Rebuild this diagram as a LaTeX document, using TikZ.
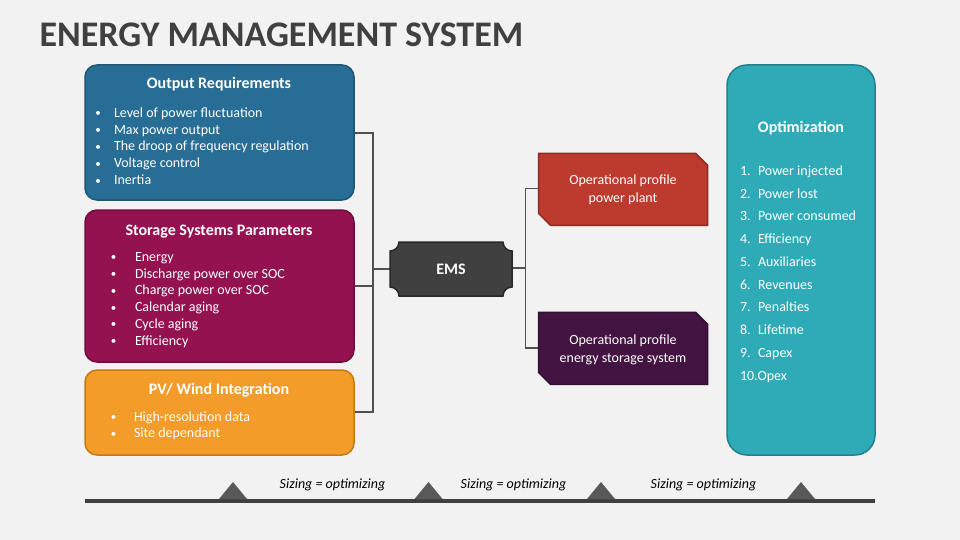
\documentclass[tikz,border=0pt]{standalone}
\usepackage{fontspec}
\setmainfont{Carlito}
\definecolor{bgc}{HTML}{F2F2F2}
\definecolor{titlec}{HTML}{404040}
\definecolor{linec}{HTML}{505050}
\definecolor{bluef}{HTML}{276D95}\definecolor{bluel}{HTML}{1F5672}
\definecolor{crimf}{HTML}{93124F}\definecolor{criml}{HTML}{6F0E3C}
\definecolor{oranf}{HTML}{F39C29}\definecolor{oranl}{HTML}{C67A14}
\definecolor{tealf}{HTML}{2FABB8}\definecolor{teall}{HTML}{22828C}
\definecolor{redf}{HTML}{BC3A2E}\definecolor{redl}{HTML}{8F2C23}
\definecolor{purpf}{HTML}{431441}\definecolor{purpl}{HTML}{330F32}
\definecolor{emsf}{HTML}{404040}\definecolor{emsl}{HTML}{282828}
\definecolor{trif}{HTML}{595959}
\tikzset{
  every node/.style={inner sep=0pt,outer sep=0pt},
  panel/.style={rounded corners=12pt,line width=1.5pt,minimum width=269pt},
  lbl/.style={text=white,font=\fontsize{14}{17}\selectfont,align=left,anchor=base west},
  bul/.style={text=white,font=\fontsize{11}{13}\selectfont,anchor=base},
  head/.style={text=white,font=\fontsize{16}{19}\selectfont\bfseries,anchor=base},
  conn/.style={draw=linec,line width=1.9pt},
  snipbox/.style={minimum width=169pt,minimum height=72pt},
  snipline/.style={line width=1.5pt,line join=miter},
  sniptext/.style={text=white,align=center,font=\fontsize{14}{17.5}\selectfont},
  tri/.style={fill=trif,draw=none},
  sizing/.style={font=\fontsize{14}{17}\selectfont\itshape,text=black,anchor=base}
}
\newcommand{\snipshape}[3]{%
  \draw[snipline,draw=#2,fill=#3]
    (#1.north west) -- ([xshift=-12pt]#1.north east) -- ([yshift=-12pt]#1.north east)
    -- (#1.south east) -- ([xshift=12pt]#1.south west) -- ([yshift=12pt]#1.south west) -- cycle;}
\begin{document}
\begin{tikzpicture}[x=1pt,y=-1pt]
\useasboundingbox (0,0) rectangle (960,540);
\fill[bgc] (0,0) rectangle (960,540);
\node[anchor=base west,text=titlec,font=\fontsize{36}{40}\selectfont\bfseries] (title) at (39.5,46.5) {ENERGY MANAGEMENT SYSTEM};

% centre and right nodes
\coordinate (busL) at (373,269);
\coordinate (busR) at (525.5,268);
\node[panel,minimum height=135pt] (out) at (219.5,132.5) {};
\node[panel,minimum height=152pt] (stor) at (219.5,286) {};
\node[panel,minimum height=85pt] (pv) at (219.5,412.5) {};
\node[minimum width=122pt,minimum height=54pt] (ems) at (451,269) {};
\node[snipbox] (plant) at (623,189.3) {};
\node[snipbox] (ess) at (623,348.3) {};

% connectors
\draw[conn] (out.east |- 0,133) -- (373,133) -- (373,412) -- (pv.east |- 0,412);
\draw[conn] (stor.east) -- (stor.east -| busL);
\draw[conn] (busL) -- (ems.west |- busL);
\draw[conn] (ems.east |- busR) -- (busR);
\draw[conn] (plant.west |- 0,188.5) -- (525.5,188.5) -- (525.5,348.3) -- (ess.west |- 0,348.3);

% panels
\node[panel,draw=bluel,fill=bluef,minimum height=135pt] at (out) {};
\node[panel,draw=criml,fill=crimf,minimum height=152pt] at (stor) {};
\node[panel,draw=oranl,fill=oranf,minimum height=85pt] at (pv) {};
\node[draw=teall,fill=tealf,rounded corners=20pt,line width=1.5pt,minimum width=148pt,minimum height=390pt] (opt) at (801,260) {};

\snipshape{plant}{redl}{redf}
\snipshape{ess}{purpl}{purpf}
\node[sniptext] (plantt) at (623,190) {Operational profile\\power plant};
\node[sniptext] (esst) at (623,350) {Operational profile\\energy storage system};

% EMS plaque
\draw[draw=emsl,fill=emsf,line width=1.5pt]
  ([yshift=-9pt]ems.north west)
  .. controls +(5,0) and +(0,5) .. ([xshift=9pt]ems.north west)
  -- ([xshift=-9pt]ems.north east)
  .. controls +(0,5) and +(-5,0) .. ([yshift=-9pt]ems.north east)
  -- ([yshift=9pt]ems.south east)
  .. controls +(-5,0) and +(0,-5) .. ([xshift=-9pt]ems.south east)
  -- ([xshift=9pt]ems.south west)
  .. controls +(0,-5) and +(5,0) .. ([yshift=9pt]ems.south west)
  -- cycle;
\node[text=white,font=\fontsize{16}{19}\selectfont\bfseries] (emst) at (451,269) {EMS};

% Output
\node[head] (h1) at (219,88.3) {Output Requirements};
\foreach \t [count=\i] in {Level of power fluctuation,Max power output,The droop of frequency regulation,Voltage control,Inertia}{
  \pgfmathsetmacro\yy{117.3+(\i-1)*16.8}
  \node[lbl] (a\i) at (114,\yy) {\t};
  \node[bul] (ab\i) at (98,\yy-0.5) {•};
}
% Storage
\node[head] (h2) at (219,235) {Storage Systems Parameters};
\foreach \t [count=\i] in {Energy,Discharge power over SOC,Charge power over SOC,Calendar aging,Cycle aging,Efficiency}{
  \pgfmathsetmacro\yy{261.2+(\i-1)*16.8}
  \node[lbl] (b\i) at (135,\yy) {\t};
  \node[bul] (bb\i) at (113.5,\yy-0.5) {•};
}
% PV
\node[head] (h3) at (219,394.3) {PV/ Wind Integration};
\foreach \t [count=\i] in {High-resolution data,Site dependant}{
  \pgfmathsetmacro\yy{421+(\i-1)*16.8}
  \node[lbl] (c\i) at (134,\yy) {\t};
  \node[bul] (cb\i) at (113.5,\yy-0.5) {•};
}
% Optimization
\node[head] (h4) at (801,132.3) {Optimization};
\foreach \t [count=\i] in {Power injected,Power lost,Power consumed,Efficiency,Auxiliaries,Revenues,Penalties,Lifetime,Capex,Opex}{
  \pgfmathsetmacro\yy{175.3+(\i-1)*22.75}
  \ifnum\i<10
    \node[lbl] (d\i) at (758,\yy) {\t};
    \node[lbl] (dn\i) at (740,\yy) {\i.};
  \else
    \node[lbl] (d\i) at (740,\yy) {10.\t};
  \fi
}

% Timeline
\fill[titlec] (85,499) rectangle (875,503);
\foreach \x in {233,428.5,601,801}{
  \fill[tri] (\x-14,499) -- (\x,482) -- (\x+14,499) -- cycle;
}
\node[sizing] (s1) at (332.5,488) {Sizing = optimizing};
\node[sizing] (s2) at (513.5,488) {Sizing = optimizing};
\node[sizing] (s3) at (703.5,488) {Sizing = optimizing};
\end{tikzpicture}
\end{document}
